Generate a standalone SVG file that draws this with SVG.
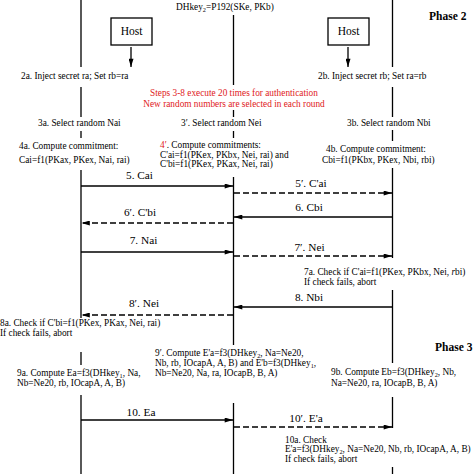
<svg xmlns="http://www.w3.org/2000/svg" width="474" height="474" viewBox="0 0 474 474">
<style>
text{font-family:"Liberation Serif","Times New Roman",serif;fill:#000}
.s{font-size:9.3px}
.l{font-size:11.3px;text-anchor:middle}
.ph{font-size:11.5px;font-weight:bold}
.red{fill:#e0201b}
.sub{font-size:6.3px}
.life{stroke:#000;stroke-width:1.3;fill:none}
.sol{stroke:#000;stroke-width:1.3;fill:none;marker-end:url(#ah)}
.dsh{stroke:#000;stroke-width:1.5;fill:none;stroke-dasharray:6 3;marker-end:url(#ah)}
.box{fill:#fff;stroke:#000;stroke-width:1.3}
</style>
<defs>
<marker id="ah" markerUnits="userSpaceOnUse" viewBox="0 0 10 6" refX="10" refY="3" markerWidth="9" markerHeight="5" orient="auto">
<path d="M0,0 L10,3 L0,6 z" fill="#000"/>
</marker>
</defs>
<rect width="474" height="474" fill="#fff"/>

<g id="connectors">
<path class="life" d="M81,0V67M81,87V117M81,131V138M81,170V318M81,352V365M81,395V474"/>
<path class="life" d="M233.5,15V85M233.5,110V117M233.5,131V138M233.5,177V345M233.5,403V474"/>
<path class="life" d="M392.5,0V67M392.5,87V117M392.5,130V141M392.5,168V258M392.5,290V363M392.5,397V428M392.5,467V474"/>
<path class="sol" d="M131,47V67"/>
<path class="sol" d="M348,47V67"/>
<path class="sol" d="M81,186H233"/>
<path class="dsh" d="M234,193H392"/>
<path class="sol" d="M392,217H234"/>
<path class="dsh" d="M233,223H81.5"/>
<path class="sol" d="M81,252H233"/>
<path class="dsh" d="M234,256H392"/>
<path class="sol" d="M392,307H234"/>
<path class="dsh" d="M233,315H81.5"/>
<path class="sol" d="M81,420H233"/>
<path class="dsh" d="M234,427H392"/>
</g>

<g id="host-a"><rect class="box" x="111" y="18" width="41" height="27"/><text x="131.5" y="35" font-size="11.5" text-anchor="middle">Host</text></g>
<g id="host-b"><rect class="box" x="328" y="18" width="41" height="27"/><text x="348.5" y="35" font-size="11.5" text-anchor="middle">Host</text></g>

<g id="phases">
<text class="ph" x="429" y="20">Phase 2</text>
<text class="ph" x="435" y="351">Phase 3</text>
</g>

<g id="dhkey"><text class="s" x="176" y="10">DHkey<tspan class="sub" dy="1.5">2</tspan><tspan dy="-1.5">=P192(SKe, PKb)</tspan></text></g>

<g id="step2">
<text class="s" x="21" y="79">2a. Inject secret ra; Set rb=ra</text>
<text class="s" x="318" y="79">2b. Inject secret rb; Set ra=rb</text>
</g>

<g id="note-rounds">
<text class="s red" x="234" y="96" text-anchor="middle">Steps 3-8 execute 20 times for authentication</text>
<text class="s red" x="234" y="107" text-anchor="middle">New random numbers are selected in each round</text>
</g>

<g id="step3">
<text class="s" x="38" y="126">3a. Select random Nai</text>
<text class="s" x="181" y="126">3′. Select random Nei</text>
<text class="s" x="347" y="126">3b. Select random Nbi</text>
</g>

<g id="step4">
<text class="s" x="19" y="149">4a. Compute commitment:</text>
<text class="s" x="19" y="162.5">Cai=f1(PKax, PKex, Nai, rai)</text>
<text class="s" x="160" y="148"><tspan class="red">4′</tspan>. Compute commitments:</text>
<text class="s" x="160" y="158">C'ai=f1(PKex, PKbx, Nei, rai) and</text>
<text class="s" x="160" y="167">C'bi=f1(PKex, PKax, Nei, rai)</text>
<text class="s" x="326" y="152">4b. Compute commitment:</text>
<text class="s" x="322" y="163">Cbi=f1(PKbx, PKex, Nbi, rbi)</text>
</g>

<g id="labels">
<text class="l" x="139.5" y="179">5. Cai</text>
<text class="l" x="311" y="187">5′. C'ai</text>
<text class="l" x="309" y="211">6. Cbi</text>
<text class="l" x="140" y="216">6′. C'bi</text>
<text class="l" x="143.5" y="244">7. Nai</text>
<text class="l" x="309.5" y="251">7′. Nei</text>
<text class="l" x="309" y="301">8. Nbi</text>
<text class="l" x="144" y="307">8′. Nei</text>
<text class="l" x="141" y="416">10. Ea</text>
<text class="l" x="306" y="422">10′. E'a</text>
</g>

<g id="check-7a">
<text class="s" x="304" y="275">7a. Check if C'ai=f1(PKex, PKbx, Nei, <tspan font-style="italic">r</tspan>bi)</text>
<text class="s" x="304" y="285">If check fails, abort</text>
</g>
<g id="check-8a">
<text class="s" x="0" y="326">8a. Check if C'bi=f1(PKex, PKax, Nei, rai)</text>
<text class="s" x="0" y="336">If check fails, abort</text>
</g>

<g id="step9">
<text class="s" x="17" y="376">9a. Compute Ea=f3(DHkey<tspan class="sub" dy="1.5">1</tspan><tspan dy="-1.5">, Na,</tspan></text>
<text class="s" x="17" y="386">Nb=Ne20, rb, IOcapA, A, B)</text>
<text class="s" x="155" y="356">9′. Compute E'a=f3(DHkey<tspan class="sub" dy="1.5">2</tspan><tspan dy="-1.5">, Na=Ne20,</tspan></text>
<text class="s" x="155" y="366">Nb, rb, IOcapA, A, B) and E'b=f3(DHkey<tspan class="sub" dy="1.5">1</tspan><tspan dy="-1.5">,</tspan></text>
<text class="s" x="155" y="376">Nb=Ne20, Na, ra, IOcapB, B, A)</text>
<text class="s" x="331" y="375">9b. Compute Eb=f3(DHkey<tspan class="sub" dy="1.5">2</tspan><tspan dy="-1.5">, Nb,</tspan></text>
<text class="s" x="331" y="386">Na=Ne20, ra, IOcapB, B, A)</text>
</g>

<g id="check-10a">
<text class="s" x="285" y="442.5">10a. Check</text>
<text class="s" x="285" y="452">E'a=f3(DHkey<tspan class="sub" dy="1.5">2</tspan><tspan dy="-1.5">, Na=Ne20, Nb, rb, IOcapA, A, B)</tspan></text>
<text class="s" x="285" y="461.5">If check fails, abort</text>
</g>
</svg>
